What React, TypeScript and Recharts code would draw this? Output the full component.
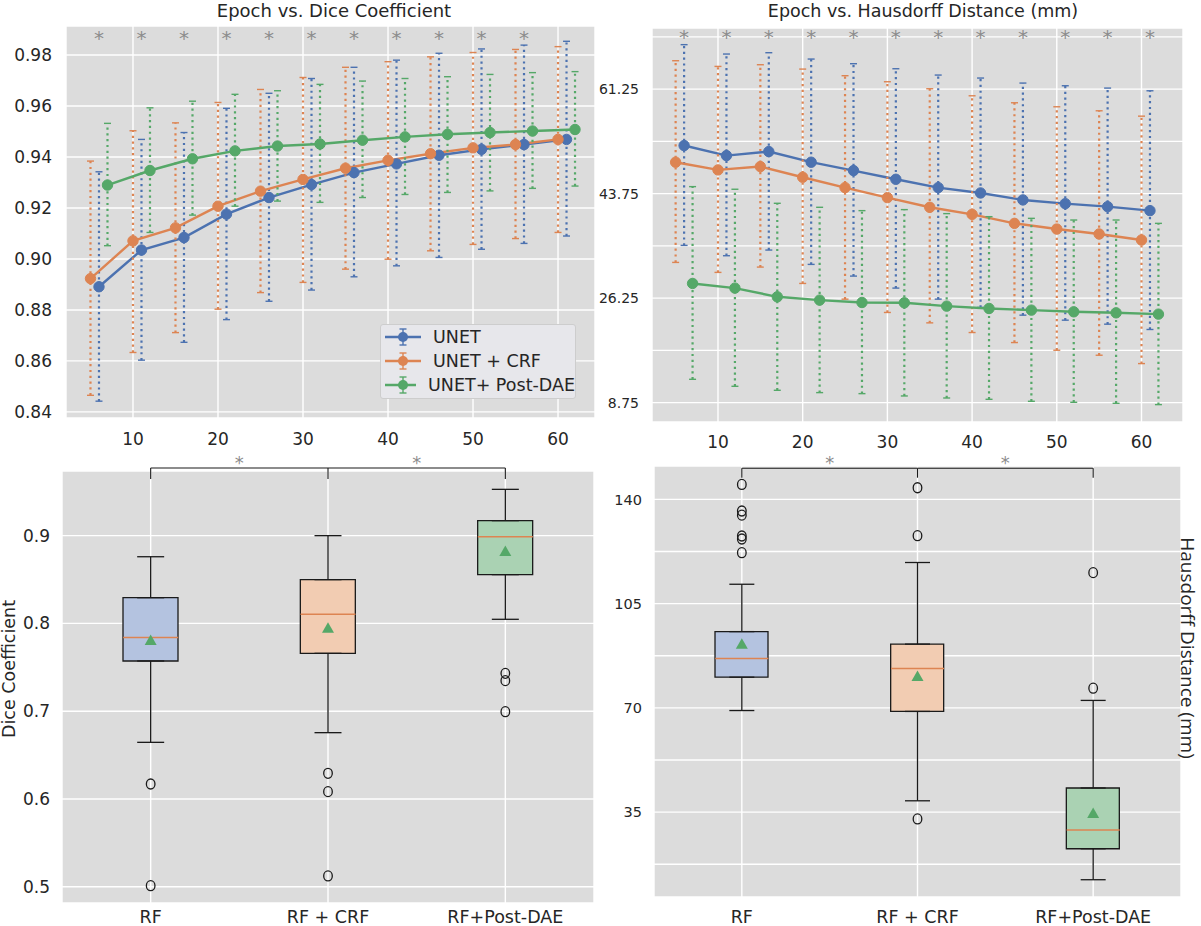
import React from 'react';
import {
  ComposedChart, Line, ErrorBar, XAxis, YAxis, CartesianGrid, Scatter, Legend, Bar, Cell, ReferenceLine,
} from 'recharts';

const FONT = '"DejaVu Sans", sans-serif';
const TEXT = '#262626';
const BLUE = '#4C72B0';
const ORANGE = '#DD8452';
const GREEN = '#55A868';
const PLOT_BG = '#DCDCDC';
const SIG_GRAY = '#8C8C8C';
const BOX_FILLS = ['#B4C3E0', '#F2CCB2', '#AAD2B3'];
const INK = '#1A1A1A';

// ---------------- Data: epoch curves ----------------
const epochs = [5, 10, 15, 20, 25, 30, 35, 40, 45, 50, 55, 60];
const epochTicks = [10, 20, 30, 40, 50, 60];
const seriesNames = ['UNET', 'UNET + CRF', 'UNET+ Post-DAE'];
const seriesColors = [BLUE, ORANGE, GREEN];
const seriesEpochShift = [1, 0, 2];

const unetDiceMean = [0.8891, 0.9035, 0.9084, 0.9176, 0.9241, 0.9292, 0.9339, 0.9373, 0.9407, 0.943, 0.9449, 0.9469];
const unetDiceLow = [0.8442, 0.8603, 0.8673, 0.8762, 0.8834, 0.8878, 0.893, 0.8973, 0.9006, 0.9038, 0.9061, 0.909];
const unetDiceHigh = [0.9342, 0.9469, 0.9496, 0.9591, 0.965, 0.9708, 0.9752, 0.978, 0.9807, 0.9824, 0.9839, 0.9854];
const crfDiceMean = [0.8923, 0.9071, 0.9122, 0.9207, 0.9266, 0.9312, 0.9356, 0.9387, 0.9413, 0.9436, 0.9449, 0.9469];
const crfDiceLow = [0.8465, 0.8633, 0.8711, 0.8803, 0.8868, 0.8908, 0.896, 0.8999, 0.9032, 0.9057, 0.908, 0.9104];
const crfDiceHigh = [0.9384, 0.9503, 0.9534, 0.9614, 0.9665, 0.9712, 0.9752, 0.9774, 0.9793, 0.981, 0.9822, 0.9833];
const daeDiceMean = [0.929, 0.9347, 0.9393, 0.9424, 0.9443, 0.9451, 0.9466, 0.9479, 0.9489, 0.9496, 0.9502, 0.9508];
const daeDiceLow = [0.9052, 0.9104, 0.9172, 0.9207, 0.9227, 0.9222, 0.9241, 0.9253, 0.9261, 0.9267, 0.9277, 0.9286];
const daeDiceHigh = [0.9532, 0.9593, 0.9619, 0.9646, 0.966, 0.9685, 0.9698, 0.9708, 0.9715, 0.9724, 0.9731, 0.9735];

const unetHdMean = [51.8, 50.12, 50.79, 49.01, 47.61, 46.15, 44.76, 43.86, 42.69, 42.07, 41.57, 40.9];
const unetHdLow = [35.08, 33.35, 34.3, 31.9, 29.94, 27.93, 26.08, 24.69, 23.4, 22.56, 21.89, 21.0];
const unetHdHigh = [68.69, 67.12, 67.34, 66.28, 65.5, 64.66, 63.6, 63.1, 62.26, 61.81, 61.42, 60.97];
const crfHdMean = [49.01, 47.72, 48.28, 46.49, 44.76, 43.08, 41.46, 40.28, 38.77, 37.82, 36.99, 35.98];
const crfHdLow = [32.23, 30.56, 31.45, 28.71, 26.08, 23.85, 22.11, 20.49, 18.81, 17.53, 16.69, 15.29];
const crfHdHigh = [66.0, 65.05, 65.33, 64.6, 63.49, 62.48, 61.31, 60.13, 58.96, 58.29, 57.62, 56.72];
const daeHdMean = [28.71, 27.93, 26.47, 25.92, 25.52, 25.47, 24.91, 24.52, 24.24, 23.96, 23.79, 23.57];
const daeHdLow = [12.66, 11.49, 10.82, 10.43, 10.26, 9.87, 9.53, 9.31, 8.98, 8.81, 8.64, 8.42];
const daeHdHigh = [44.92, 44.48, 42.13, 41.46, 40.9, 41.07, 40.4, 39.89, 39.61, 39.33, 39.33, 38.77];

const diceSignificantEpochs = [5, 10, 15, 20, 25, 30, 35, 40, 45, 50, 55];
const hdSignificantEpochs = [5, 10, 15, 20, 25, 30, 35, 40, 45, 50, 55, 60];
const diceSignificanceLevel = 0.9886;
const hdSignificanceLevel = 70.7;

const diceEpochTicks = [0.84, 0.86, 0.88, 0.9, 0.92, 0.94, 0.96, 0.98];
const hdEpochGridTicks = [8.75, 17.5, 26.25, 35, 43.75, 52.5, 61.25, 70];
const hdEpochLabelTicks = [8.75, 26.25, 43.75, 61.25];

// ---------------- Data: box plots ----------------
const boxCategories = ['RF', 'RF + CRF', 'RF+Post-DAE'];
const boxSignificantPairs = [[0, 1], [1, 2]];

const diceWhiskerLow = [0.6645, 0.6755, 0.8047];
const diceQ1 = [0.7572, 0.7659, 0.8556];
const diceMedian = [0.7841, 0.8104, 0.8989];
const diceQ3 = [0.8293, 0.8499, 0.9171];
const diceWhiskerHigh = [0.876, 0.9, 0.9528];
const diceMean = [0.781, 0.7952, 0.8825];
const diceOutliers = [[0.617, 0.5011], [0.6292, 0.6083, 0.5122], [0.7431, 0.7348, 0.6994]];
const diceBoxTicks = [0.5, 0.6, 0.7, 0.8, 0.9];

const hdWhiskerLow = [69.1, 38.8, 12.3];
const hdQ1 = [80.3, 68.8, 22.7];
const hdMedian = [86.6, 83.2, 29.0];
const hdQ3 = [95.6, 91.4, 43.1];
const hdWhiskerHigh = [111.5, 118.8, 72.5];
const hdMean = [91.5, 80.7, 34.7];
const hdOutliers = [[145.0, 136.1, 134.7, 127.7, 126.7, 122.1], [143.9, 127.8, 32.7], [115.4, 76.6]];
const hdBoxGridTicks = [17.5, 35, 52.5, 70, 87.5, 105, 122.5, 140];
const hdBoxLabelTicks = [35, 70, 105, 140];

// ---------------- Helpers ----------------
type Pt = { x: number; y: number; err: [number, number] };
const buildSeries = (shift: number, mean: number[], lo: number[], hi: number[]): Pt[] =>
  epochs.map((e, i) => ({ x: e + shift, y: mean[i], err: [mean[i] - lo[i], hi[i] - mean[i]] as [number, number] }));

const diceSeries = [
  buildSeries(seriesEpochShift[0], unetDiceMean, unetDiceLow, unetDiceHigh),
  buildSeries(seriesEpochShift[1], crfDiceMean, crfDiceLow, crfDiceHigh),
  buildSeries(seriesEpochShift[2], daeDiceMean, daeDiceLow, daeDiceHigh),
];
const hdSeries = [
  buildSeries(seriesEpochShift[0], unetHdMean, unetHdLow, unetHdHigh),
  buildSeries(seriesEpochShift[1], crfHdMean, crfHdLow, crfHdHigh),
  buildSeries(seriesEpochShift[2], daeHdMean, daeHdLow, daeHdHigh),
];

const AsteriskShape = (props: any) => {
  const { cx, cy } = props;
  if (cx == null || cy == null) return <g />;
  return (
    <text x={cx} y={cy + 11.5} textAnchor="middle" fontSize={20} fill={SIG_GRAY} fontFamily={FONT}>*</text>
  );
};

const LegendBox = (props: any) => {
  const items = (props.payload || []).filter((p: any) => p.type !== 'none');
  return (
    <div style={{
      background: '#E7E7EB', border: '1px solid #CDCDCD', borderRadius: 3, width: 194, height: 73,
      boxSizing: 'content-box', fontFamily: FONT,
    }}>
      {items.map((p: any) => (
        <div key={p.value} style={{ display: 'flex', alignItems: 'center', height: 24 }}>
          <svg width={36} height={24} style={{ marginLeft: 4 }}>
            <line x1={0} x2={36} y1={12} y2={12} stroke={p.color} strokeWidth={2.4} />
            <line x1={18} x2={18} y1={4} y2={20} stroke={p.color} strokeWidth={1.4} />
            <line x1={14.5} x2={21.5} y1={4} y2={4} stroke={p.color} strokeWidth={1.4} />
            <line x1={14.5} x2={21.5} y1={20} y2={20} stroke={p.color} strokeWidth={1.4} />
            <circle cx={18} cy={12} r={5} fill={p.color} />
          </svg>
          <span style={{ marginLeft: 12, fontSize: 17.5, color: TEXT, whiteSpace: 'nowrap' }}>{p.value}</span>
        </div>
      ))}
    </div>
  );
};

type EpochChartProps = {
  width: number; height: number; margin: any; yAxisWidth: number; xAxisHeight: number;
  xDomain: [number, number]; yDomain: [number, number]; yTicks: number[];
  yFormat: (v: number) => string; yTickFont: number; xTickFont: number;
  xTickMargin: number; yTickMargin: number; series: Pt[][];
  sigEpochs: number[]; sigLevel: number; showLegend: boolean;
};

function EpochChart(p: EpochChartProps) {
  const sigData = p.sigEpochs.map((e) => ({ x: e + seriesEpochShift[0], y: p.sigLevel }));
  return (
    <ComposedChart width={p.width} height={p.height} margin={p.margin}>
      <CartesianGrid fill={PLOT_BG} stroke="#FFFFFF" strokeWidth={1.4} />
      <XAxis type="number" dataKey="x" domain={p.xDomain} allowDataOverflow ticks={epochTicks} interval={0}
        axisLine={false} tickLine={false} tickSize={0} tickMargin={p.xTickMargin} height={p.xAxisHeight}
        tick={{ fill: TEXT, fontSize: p.xTickFont }} />
      <YAxis type="number" domain={p.yDomain} allowDataOverflow ticks={p.yTicks} interval={0}
        tickFormatter={p.yFormat} axisLine={false} tickLine={false} tickSize={0} tickMargin={p.yTickMargin}
        width={p.yAxisWidth} tick={{ fill: TEXT, fontSize: p.yTickFont }} />
      {p.series.map((data, i) => (
        <Line key={seriesNames[i]} name={seriesNames[i]} data={data} dataKey="y" stroke={seriesColors[i]}
          strokeWidth={2.4} dot={{ r: 5.2, fill: seriesColors[i], stroke: seriesColors[i], strokeWidth: 1 }}
          activeDot={false} isAnimationActive={false}>
          <ErrorBar dataKey="err" width={3.5} stroke={seriesColors[i]} strokeWidth={1.4} isAnimationActive={false} />
        </Line>
      ))}
      <Scatter data={sigData} dataKey="y" shape={AsteriskShape} legendType="none" isAnimationActive={false} />
      {p.showLegend && (
        <Legend content={LegendBox} layout="vertical" align="center" verticalAlign="middle"
          wrapperStyle={{ position: 'absolute', left: 380, top: 324, width: 196 }} />
      )}
    </ComposedChart>
  );
}

type BoxChartProps = {
  width: number; height: number; margin: any; yAxisWidth: number; xAxisHeight: number;
  yDomain: [number, number]; yTicks: number[]; yFormat: (v: number) => string;
  yTickFont: number; xTickFont: number; xTickMargin: number; yTickMargin: number;
  lo: number[]; q1: number[]; med: number[]; q3: number[]; hi: number[]; mean: number[]; outliers: number[][];
  boxWidth: number; capHalf: number; bracketLevel: number; bracketDrop: number;
};

function BoxChart(p: BoxChartProps) {
  const data = boxCategories.map((name, i) => ({
    name,
    box: [p.q1[i], p.q3[i]],
    q1: p.q1[i], q3: p.q3[i], median: p.med[i], mean: p.mean[i],
    upper: [0, p.hi[i] - p.q3[i]],
    lower: [p.q1[i] - p.lo[i], 0],
  }));
  const outlierData = p.outliers.flatMap((vals, i) => vals.map((v) => ({ name: boxCategories[i], v })));
  const half = p.boxWidth / 2;
  const MedianDot = (d: any) => (d.cx == null || d.cy == null) ? <g key={`md-${d.index}`} /> : (
    <line key={`md-${d.index}`} x1={d.cx - half} x2={d.cx + half} y1={d.cy} y2={d.cy} stroke={ORANGE} strokeWidth={1.5} />
  );
  const MeanDot = (d: any) => (d.cx == null || d.cy == null) ? <g key={`mn-${d.index}`} /> : (
    <polygon key={`mn-${d.index}`} points={`${d.cx},${d.cy - 5.5} ${d.cx - 6},${d.cy + 5} ${d.cx + 6},${d.cy + 5}`} fill={GREEN} />
  );
  const OutlierShape = (d: any) => (d.cx == null || d.cy == null) ? <g /> : (
    <ellipse cx={d.cx} cy={d.cy} rx={4.3} ry={5} fill="none" stroke={INK} strokeWidth={1.3} />
  );
  const refStyle = { stroke: INK, strokeWidth: 1.1 };
  return (
    <ComposedChart width={p.width} height={p.height} margin={p.margin} data={data}>
      <CartesianGrid fill={PLOT_BG} stroke="#FFFFFF" strokeWidth={1.4} />
      <XAxis dataKey="name" type="category" allowDuplicatedCategory={false} axisLine={false} tickLine={false}
        tickSize={0} tickMargin={p.xTickMargin} height={p.xAxisHeight} interval={0}
        tick={{ fill: TEXT, fontSize: p.xTickFont }} />
      <YAxis type="number" domain={p.yDomain} allowDataOverflow ticks={p.yTicks} interval={0}
        tickFormatter={p.yFormat} axisLine={false} tickLine={false} tickSize={0} tickMargin={p.yTickMargin}
        width={p.yAxisWidth} tick={{ fill: TEXT, fontSize: p.yTickFont }} />
      <Bar dataKey="box" barSize={p.boxWidth} stroke={INK} strokeWidth={1.3} isAnimationActive={false}>
        {data.map((d, i) => <Cell key={d.name} fill={BOX_FILLS[i]} />)}
      </Bar>
      <Line dataKey="q3" stroke="none" dot={false} activeDot={false} legendType="none" isAnimationActive={false}>
        <ErrorBar dataKey="upper" width={p.capHalf} stroke={INK} strokeWidth={1.3} isAnimationActive={false} />
      </Line>
      <Line dataKey="q1" stroke="none" dot={false} activeDot={false} legendType="none" isAnimationActive={false}>
        <ErrorBar dataKey="lower" width={p.capHalf} stroke={INK} strokeWidth={1.3} isAnimationActive={false} />
      </Line>
      <Line dataKey="median" stroke="none" dot={MedianDot} activeDot={false} legendType="none" isAnimationActive={false} />
      <Line dataKey="mean" stroke="none" dot={MeanDot} activeDot={false} legendType="none" isAnimationActive={false} />
      <Scatter data={outlierData} dataKey="v" shape={OutlierShape} legendType="none" isAnimationActive={false} />
      {boxSignificantPairs.map(([a, b]) => (
        <ReferenceLine key={`pair-${a}-${b}`} ifOverflow="visible" {...refStyle}
          segment={[{ x: boxCategories[a], y: p.bracketLevel }, { x: boxCategories[b], y: p.bracketLevel }]}
          label={{ value: '*', position: 'top', offset: -1, fill: SIG_GRAY, fontSize: 18 }} />
      ))}
      {boxCategories.map((c) => (
        <ReferenceLine key={`drop-${c}`} ifOverflow="visible" {...refStyle}
          segment={[{ x: c, y: p.bracketLevel }, { x: c, y: p.bracketDrop }]} />
      ))}
    </ComposedChart>
  );
}

const css = `
.epoch-chart .recharts-errorBar line { stroke-dasharray: none; }
.epoch-chart .recharts-errorBar line:nth-of-type(2) { stroke-dasharray: 2.2 3.6; stroke-width: 2.2px; }
`;

export default function App() {
  const hdLabelSet = new Set(hdEpochLabelTicks);
  const hdBoxLabelSet = new Set(hdBoxLabelTicks);
  return (
    <div style={{ position: 'absolute', left: 0, top: 0, width: 1201, height: 926, background: '#FFFFFF', fontFamily: FONT, overflow: 'hidden' }}>
      <style>{css}</style>
      <div className="epoch-chart" style={{ position: 'absolute', left: 0, top: 0 }}>
        <EpochChart width={600} height={455} margin={{ top: 26, right: 5, bottom: 0, left: 0 }}
          yAxisWidth={66} xAxisHeight={37} xDomain={[2.12, 64.35]} yDomain={[0.8376, 0.9914]}
          yTicks={diceEpochTicks} yFormat={(v) => v.toFixed(2)} yTickFont={17} xTickFont={17}
          xTickMargin={15} yTickMargin={14} series={diceSeries}
          sigEpochs={diceSignificantEpochs} sigLevel={diceSignificanceLevel} showLegend />
      </div>
      <div className="epoch-chart" style={{ position: 'absolute', left: 588, top: 0 }}>
        <EpochChart width={613} height={455} margin={{ top: 28, right: 18, bottom: 0, left: 0 }}
          yAxisWidth={64} xAxisHeight={33} xDomain={[2.21, 64.9]} yDomain={[5.51, 71.48]}
          yTicks={hdEpochGridTicks} yFormat={(v) => (hdLabelSet.has(v) ? v.toFixed(2) : '')}
          yTickFont={14} xTickFont={17} xTickMargin={14} yTickMargin={13} series={hdSeries}
          sigEpochs={hdSignificantEpochs} sigLevel={hdSignificanceLevel} showLegend={false} />
      </div>
      <div style={{ position: 'absolute', left: 0, top: 445 }}>
        <BoxChart width={600} height={481} margin={{ top: 26, right: 6, bottom: 0, left: 0 }}
          yAxisWidth={62} xAxisHeight={23} yDomain={[0.4814, 0.9737]} yTicks={diceBoxTicks}
          yFormat={(v) => v.toFixed(1)} yTickFont={17} xTickFont={17.5} xTickMargin={8} yTickMargin={12}
          lo={diceWhiskerLow} q1={diceQ1} med={diceMedian} q3={diceQ3} hi={diceWhiskerHigh} mean={diceMean}
          outliers={diceOutliers} boxWidth={55} capHalf={13.5} bracketLevel={0.9772} bracketDrop={0.9646} />
      </div>
      <div style={{ position: 'absolute', left: 588, top: 445 }}>
        <BoxChart width={613} height={481} margin={{ top: 21, right: 20, bottom: 0, left: 0 }}
          yAxisWidth={66} xAxisHeight={29} yDomain={[6.5, 151.2]} yTicks={hdBoxGridTicks}
          yFormat={(v) => (hdBoxLabelSet.has(v) ? String(v) : '')} yTickFont={14.5} xTickFont={17.5}
          xTickMargin={14} yTickMargin={12}
          lo={hdWhiskerLow} q1={hdQ1} med={hdMedian} q3={hdQ3} hi={hdWhiskerHigh} mean={hdMean}
          outliers={hdOutliers} boxWidth={53} capHalf={12.5} bracketLevel={150.43} bracketDrop={147.27} />
      </div>
      <svg width={1201} height={926} style={{ position: 'absolute', left: 0, top: 0, pointerEvents: 'none' }}>
        <text x={334} y={17} textAnchor="middle" fontSize={18} fill={TEXT} fontFamily={FONT}>Epoch vs. Dice Coefficient</text>
        <text x={923} y={17} textAnchor="middle" fill={TEXT} fontFamily={FONT} fontSize={17.5}>Epoch vs. Hausdorff Distance (mm)</text>
        <text transform="translate(15,669) rotate(-90)" textAnchor="middle" fontSize={17.5} fill={TEXT} fontFamily={FONT}>Dice Coefficient</text>
        <text transform="translate(1181,648) rotate(90)" textAnchor="middle" fontSize={19} fill={TEXT} fontFamily='"Open Sans", sans-serif'>Hausdorff Distance (mm)</text>
      </svg>
    </div>
  );
}
